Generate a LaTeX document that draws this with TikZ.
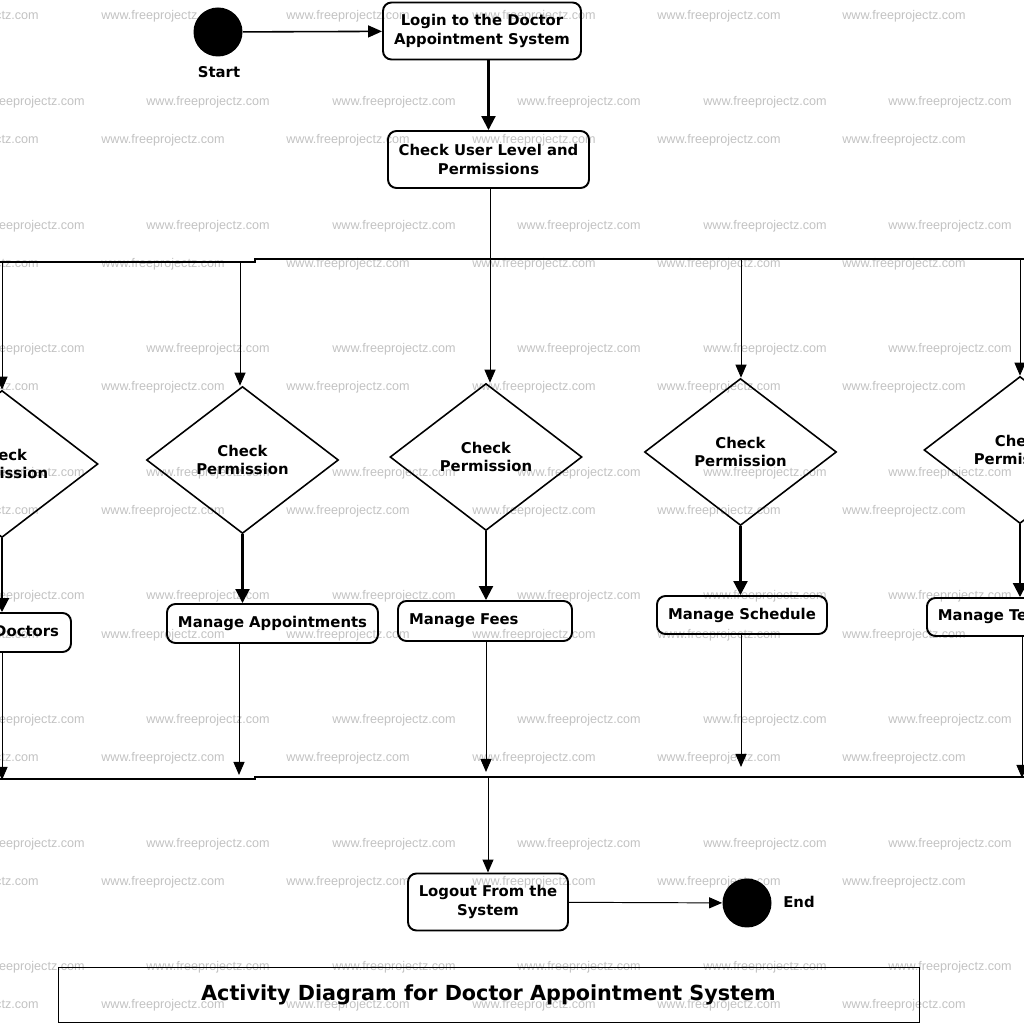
\documentclass[tikz,border=0pt]{standalone}
\usepackage{fontspec}
\setmainfont{DejaVu Sans}
\newfontfamily\wmfont{Liberation Sans}
\usetikzlibrary{calc}
\usetikzlibrary{arrows.meta}
\usetikzlibrary{shapes.geometric}

\tikzset{
  mark text/.style={font=\wmfont\fontsize{7.18}{8}\selectfont, text=black!24, inner sep=0pt},
  label text/.style={font=\bfseries\fontsize{8.45}{10.5}\selectfont, align=center, inner sep=0pt},
  activity/.style={label text, draw, line width=1.1pt, rounded corners=.17cm},
  choice/.style={label text, draw, diamond, line width=.9pt, minimum width=3.84cm, minimum height=2.94cm},
  blob/.style={circle, fill=black, inner sep=0pt, minimum size=.98cm},
  heavy/.style={-{Triangle[length=.28cm,width=.28cm]}, line width=1.2pt},
  light/.style={-{Triangle[length=.26cm,width=.22cm]}, line width=.55pt},
  bar/.style={line width=.9pt}
}

\begin{document}
\begin{tikzpicture}
\clip (0,0) rectangle (20.48,20.48);

% watermark rows
\foreach \y [count=\r] in {20.16,17.68,15.20,12.74,10.26,7.78,5.32,2.84,.38}
  \foreach \x [count=\c] in {-.46,3.26,6.96,10.68,14.38,18.08}
    \node[mark text] (wmA\r\c) at (\x,\y) {www.freeprojectz.com};
\foreach \y [count=\r] in {18.44,15.96,13.50,11.02,8.56,6.08,3.60,1.14}
  \foreach \x [count=\c] in {.46,4.16,7.88,11.58,15.30,19.00}
    \node[mark text] (wmB\r\c) at (\x,\y) {www.freeprojectz.com};

% top of the flow
\node[blob] (start) at (4.36,19.84) {};
\node[label text] (startLabel) at (4.38,19.04) {Start};
\node[activity, minimum width=3.96cm, minimum height=1.14cm] (login) at (9.64,19.86) {Login to the Doctor\\Appointment System};
\node[activity, minimum width=4.02cm, minimum height=1.14cm] (checkUser) at (9.77,17.29) {Check User Level and\\Permissions};

\draw[-{Triangle[length=.28cm,width=.24cm]}, line width=.9pt] (start) -- (login);
\draw[heavy] (login.south -| checkUser.south) -- (checkUser.north);

% upper bar
\coordinate (splitA) at (.04,15.24);
\coordinate (splitB) at (4.80,15.24);
\coordinate (splitC) at (9.80,15.30);
\coordinate (splitD) at (14.82,15.30);
\coordinate (splitE) at (20.40,15.30);
\coordinate (splitKink) at (5.10,15.30);

\draw[bar] (-.1,15.24) -- (5.10,15.24) -- (splitKink) -- (20.6,15.30);
\draw[line width=.55pt] (checkUser.south -| splitC) -- (splitC);

% the five permission checks
\node[choice] (checkA) at (.04,11.20) {Check\\Permission};
\node[choice] (checkB) at (4.85,11.28) {Check\\Permission};
\node[choice] (checkC) at (9.72,11.34) {Check\\Permission};
\node[choice] (checkD) at (14.81,11.44) {Check\\Permission};
\node[choice] (checkE) at (20.40,11.48) {Check\\Permission};

\foreach \n in {A,B,C,D,E}
  \draw[light] (split\n) -- (split\n |- check\n.north);

% tasks
\node[activity, minimum width=3.2cm, minimum height=.78cm] (doctors) at (-.18,7.83) {Manage Doctors};
\node[activity, minimum width=4.22cm, minimum height=.78cm] (appointments) at (5.45,8.01) {Manage Appointments};
\node[activity, minimum height=.8cm, text width=3.04cm, align=left, inner xsep=.22cm] (fees) at (9.70,8.06) {Manage Fees};
\node[activity, minimum width=3.4cm, minimum height=.76cm] (schedule) at (14.84,8.18) {Manage Schedule};
\node[activity, anchor=west, minimum height=.76cm, text width=2.96cm, align=left, inner xsep=.22cm] (te) at (18.52,8.14) {Manage Te};

\draw[heavy] (checkA.south) -- (checkA.south |- doctors.north);
\draw[heavy] (checkB.south) -- (checkB.south |- appointments.north);
\draw[heavy] (checkC.south) -- (checkC.south |- fees.north);
\draw[heavy] (checkD.south) -- (checkD.south |- schedule.north);
\draw[heavy] (checkE.south) -- (checkE.south |- te.north);

% lower bar
\coordinate (joinA) at (.04,4.88);
\coordinate (joinB) at (4.78,4.98);
\coordinate (joinC) at (9.72,5.04);
\coordinate (joinD) at (14.82,5.14);
\coordinate (joinE) at (20.44,4.92);
\coordinate (joinKink) at (5.10,4.94);

\draw[bar] (-.1,4.90) -- (5.10,4.90) -- (joinKink) -- (20.6,4.94);

\draw[light] (joinA |- doctors.south) -- (joinA);
\draw[light] (joinB |- appointments.south) -- (joinB);
\draw[light] (joinC |- fees.south) -- (joinC);
\draw[light] (joinD |- schedule.south) -- (joinD);
\draw[light] (joinE |- te.south) -- (joinE);

% end of the flow
\coordinate (merge) at (9.76,4.94);
\node[activity, minimum width=3.2cm, minimum height=1.14cm] (logout) at (9.76,2.44) {Logout From the\\System};
\node[blob] (end) at (14.94,2.42) {};
\node[label text] (endLabel) at (15.98,2.44) {End};

\draw[light] (merge) -- (logout.north);
\draw[light] (logout) -- (end);

% title
\node[draw, line width=.45pt, minimum width=17.22cm, minimum height=1.1cm, font=\bfseries\fontsize{11.8}{14}\selectfont] (title) at (9.77,.58) {Activity Diagram for Doctor Appointment System};

\end{tikzpicture}
\end{document}
